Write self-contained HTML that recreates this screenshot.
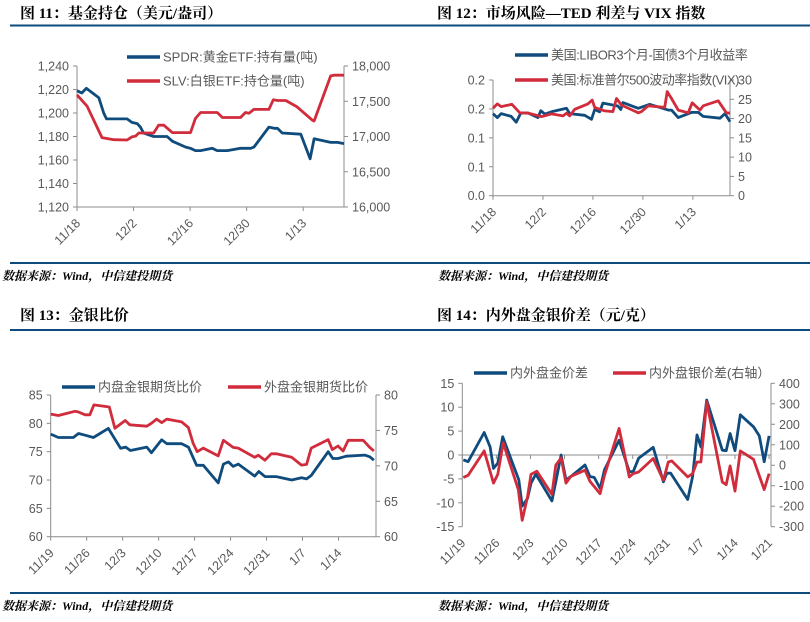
<!DOCTYPE html>
<html><head><meta charset="utf-8">
<style>
html,body{margin:0;padding:0;background:#fff;}
svg{display:block;font-family:"Liberation Sans","Noto Sans CJK SC",sans-serif;}
.ttl{font-family:"Liberation Serif","Noto Serif CJK SC",serif;font-weight:bold;font-size:15px;fill:#000;}
.src{font-family:"Liberation Serif","Noto Serif CJK SC",serif;font-weight:bold;font-style:italic;font-size:12px;fill:#000;}
.tk{font-size:12.5px;fill:#595959;}
.lg{font-size:13px;fill:#595959;}
</style></head>
<body>
<svg id="s" width="810" height="622" viewBox="0 0 810 622">
<text class="ttl" x="20" y="18">图 11：基金持仓（美元/盎司）</text>
<text class="ttl" x="437" y="18">图 12：市场风险—TED 利差与 VIX 指数</text>
<text class="ttl" x="20" y="320">图 13：金银比价</text>
<text class="ttl" x="437" y="320">图 14：内外盘金银价差（元/克）</text>
<rect x="10" y="24.5" width="395" height="2" fill="#0e4a7b"/>
<rect x="405" y="24.5" width="405" height="2" fill="#0e4a7b"/>
<rect x="10" y="262" width="395" height="2" fill="#0e4a7b"/>
<rect x="405" y="262" width="405" height="2" fill="#0e4a7b"/>
<rect x="10" y="329" width="395" height="2" fill="#0e4a7b"/>
<rect x="405" y="329" width="405" height="2" fill="#0e4a7b"/>
<rect x="10" y="592" width="395" height="2" fill="#0e4a7b"/>
<rect x="405" y="592" width="405" height="2" fill="#0e4a7b"/>
<text class="src" x="2" y="280">数据来源：Wind，中信建投期货</text>
<text class="src" x="438" y="280">数据来源：Wind，中信建投期货</text>
<text class="src" x="2" y="610">数据来源：Wind，中信建投期货</text>
<text class="src" x="438" y="610">数据来源：Wind，中信建投期货</text>
</svg>
<script>
// ---- Figure 11 data ----
const c11Ticks = [0,14,28,42,56];
const c11TickLabels = ["11/18","12/2","12/16","12/30","1/13"];
const c11LeftLabels = ["1,120","1,140","1,160","1,180","1,200","1,220","1,240"];
const c11RightLabels = ["16,000","16,500","17,000","17,500","18,000"];
const c11GoldDays = [0,1.2,2.3,5.4,6.6,7.3,12.4,13.6,14.9,15.7,16.5,19.0,22.3,23.6,26.9,28.1,29.3,30.6,33.5,34.7,37.2,40.5,43.0,43.8,47.5,48.8,49.6,50.8,55.4,57.7,58.7,62.8,64.5,66.1];
const c11GoldValues = [1219,1217,1221,1213,1200,1195,1195,1192,1191,1188,1183,1180,1180,1176,1171,1170,1168,1168,1170,1168,1168,1170,1170,1171,1188,1187,1187,1183,1182,1161,1178,1175,1175,1174];
const c11SilverDays = [0,2.5,6.2,9.1,12.4,13.6,14.5,15.3,19.0,20.2,21.5,23.6,28.1,29.3,30.6,34.7,36.0,40.5,41.7,42.6,43.8,47.5,48.6,49.6,51.7,54.5,58.3,58.7,62.8,63.6,66.1];
const c11SilverValues = [17590,17430,16985,16955,16950,16995,17005,17050,17050,17160,17160,17055,17055,17255,17340,17340,17270,17270,17340,17330,17385,17385,17520,17510,17510,17420,17230,17220,17860,17870,17870];
// ---- Figure 12 data ----
const c12Ticks = [0,14,28,42,56];
const c12TickLabels = ["11/18","12/2","12/16","12/30","1/13"];
const c12LeftLabels = ["0.0","0.1","0.1","0.2","0.2"];
const c12RightLabels = ["0","5","10","15","20","25","30"];
const c12TedDays = [0,1.2,2.3,5.1,6.5,7.8,9.8,12.6,13.4,14.5,16.4,20.6,21.5,25.7,27.6,28.5,29.9,30.8,35.0,35.8,36.4,40.7,43.9,49.1,50.0,51.9,55.6,57.5,58.9,63.6,65.0,66.4];
const c12TedValues = [0.142,0.135,0.142,0.137,0.127,0.143,0.143,0.135,0.147,0.141,0.145,0.151,0.142,0.139,0.132,0.149,0.145,0.160,0.155,0.149,0.161,0.151,0.158,0.148,0.148,0.135,0.144,0.144,0.137,0.134,0.142,0.128];
const c12VixDays = [0,1.2,2.3,5.3,7.5,10.0,13.6,16.4,19.6,20.6,21.5,22.9,26.6,27.8,28.5,31.3,33.6,34.6,36.0,40.7,41.6,43.5,48.1,48.8,50.0,51.9,54.7,55.8,58.0,58.9,63.1,65.4,66.4];
const c12VixValues = [22.7,23.8,23.1,23.7,21.5,21.4,20.5,21.2,20.7,21.4,20.7,22.4,23.8,24.8,22.9,22.0,21.8,25.2,23.5,21.5,21.8,23.3,22.9,27.0,25.2,22.2,21.5,24.1,22.2,23.3,24.6,21.5,21.4];
// ---- Figure 13 data ----
const c13Ticks = [0,7,14,21,28,35,42,49,56];
const c13TickLabels = ["11/19","11/26","12/3","12/10","12/17","12/24","12/31","1/7","1/14"];
const c13LeftLabels = ["60","65","70","75","80","85"];
const c13RightLabels = ["60","65","70","75","80"];
const c13InnerDays = [0,1.5,4.4,5.4,6.7,8.3,11.2,13.6,14.6,15.5,18.7,19.6,21.6,22.6,25.5,26.8,28.4,29.7,32.6,33.6,34.6,35.5,36.5,39.7,40.5,41.7,43.9,46.9,48.8,49.8,50.7,54.0,54.9,55.9,57.5,61.1,62.1,62.9];
const c13InnerValues = [78.1,77.5,77.5,78.2,77.9,77.5,79.1,75.6,75.8,75.2,75.8,74.8,77.1,76.4,76.4,75.8,72.6,72.6,69.5,72.8,73.2,72.4,72.8,70.7,71.5,70.6,70.6,70.0,70.4,70.2,70.8,75.0,73.8,73.8,74.2,74.4,74.1,73.5];
const c13OuterDays = [0,1.5,4.7,5.4,6.7,7.6,8.4,11.4,12.5,14.5,15.4,18.7,19.6,20.6,21.6,22.6,25.5,26.8,27.7,28.5,29.7,32.6,33.6,35.5,36.5,39.7,40.4,41.7,42.9,43.9,46.9,48.8,49.8,50.7,54.0,54.8,55.9,56.9,57.9,60.8,62.1,62.9];
const c13OuterValues = [77.3,77.1,77.7,77.6,77.2,77.2,78.6,78.3,75.3,76.4,75.8,75.6,76.0,76.6,76.1,76.6,76.2,75.4,73.2,72.0,72.5,71.4,73.6,72.6,72.5,71.2,71.5,70.8,71.7,71.7,71.2,70.1,70.2,72.5,73.7,72.3,72.8,72.1,73.6,73.6,72.6,72.1];
// ---- Figure 14 data ----
const c14Ticks = [0,7,14,21,28,35,42,49,56,63];
const c14TickLabels = ["11/19","11/26","12/3","12/10","12/17","12/24","12/31","1/7","1/14","1/21"];
const c14LeftLabels = ["-15","-10","-5","0","5","10","15"];
const c14RightLabels = ["-300","-200","-100","0","100","200","300","400"];
const c14GoldDays = [0.2,1.2,4.5,5.7,6.4,7.3,8.3,11.6,12.3,13.4,14.1,15.1,18.4,19.2,20.3,21.3,22.3,25.2,26.2,27.1,28.3,29.2,32.2,34.3,35.1,36.2,39.2,41.3,42.0,42.8,46.3,47.3,48.2,49.0,50.2,53.4,54.2,55.0,56.0,57.1,59.8,61.0,62.0,63.0];
const c14GoldValues = [-1.0,-1.4,4.7,1.7,-2.8,-1.7,3.8,-5.2,-10.7,-9.1,-5.9,-4.0,-9.6,-5.6,0,-5.2,-4.5,-2.1,-4.5,-4.7,-7.0,-3.1,3.1,-3.5,-3.5,-0.7,1.6,-5.6,-3.8,-3.8,-9.3,-4.5,4.2,1.7,11.5,1.0,0.9,4.5,0.9,8.4,5.9,4.0,-1.4,4.0];
const c14SilverDays = [0.2,1.2,4.5,6.4,7.3,8.4,11.5,12.3,13.4,14.1,15.3,18.4,19.2,20.3,21.3,22.3,25.2,26.2,28.3,29.2,32.2,34.3,35.1,36.2,39.2,41.3,42.3,43.0,46.3,47.3,48.2,49.0,50.2,53.4,54.2,55.0,56.0,57.1,59.8,62.0,63.0];
const c14SilverValues = [-60,-49,70,-87,-44,109,-119,-269,-155,-44,-29,-142,0,36,-87,-54,-24,-78,-139,-49,180,-57,-41,-33,33,-73,16,21,-57,-41,16,16,310,-82,-95,-3,-126,70,29,-119,-41];

const NS = "http://www.w3.org/2000/svg";
const svg = document.getElementById('s');
const BLUE = "#0f4c7d", RED = "#d12c3c", AX = "#8c8c8c";
function mk(tag, attrs){ const e=document.createElementNS(NS,tag); for(const k in attrs) e.setAttribute(k,attrs[k]); svg.appendChild(e); return e; }

function chart(cfg){
  const {L,R,T,B,dayMax,yL,yR,xAxisAt} = cfg;
  const xs = d => L + d*(R-L)/dayMax;
  const yl = v => B - (v-yL[0])*(B-T)/(yL[1]-yL[0]);
  const yr = v => B - (v-yR[0])*(B-T)/(yR[1]-yR[0]);
  let a = mk('line',{x1:L,y1:T,x2:L,y2:B,stroke:AX,'stroke-width':1});
  
  
  let a2 = mk('line',{x1:R,y1:T,x2:R,y2:B,stroke:AX,'stroke-width':1});
  
  
  const n1 = cfg.leftLabels.length;
  cfg.leftLabels.forEach((lab,i)=>{
    const v = yL[0] + i*(yL[1]-yL[0])/(n1-1), y = yl(v);
    mk('line',{x1:L-4,y1:y,x2:L,y2:y,stroke:AX});
    const t = mk('text',{x:L-8,y:y+4.5,'text-anchor':'end',class:'tk'});
    t.textContent = lab;
    
    
  });
  const n2 = cfg.rightLabels.length;
  cfg.rightLabels.forEach((lab,i)=>{
    const v = yR[0] + i*(yR[1]-yR[0])/(n2-1), y = yr(v);
    mk('line',{x1:R,y1:y,x2:R+4,y2:y,stroke:AX});
    const t = mk('text',{x:R+8,y:y+4.5,class:'tk'});
    t.textContent = lab;
    
    
  });
  const xa = xAxisAt===undefined ? B : yl(xAxisAt);
  let xl = mk('line',{x1:L,y1:xa,x2:R,y2:xa,stroke:AX,'stroke-width':1});
  
  
  cfg.ticks.forEach((d,i)=>{
    const x = xs(d);
    mk('line',{x1:x,y1:xa,x2:x,y2:xa+4,stroke:AX});
    const tx = x+4, ty = B+17;
    const t = mk('text',{x:tx,y:ty,'text-anchor':'end',class:'tk',transform:`rotate(-45 ${tx} ${ty})`});
    t.textContent = cfg.tickLabels[i];
    
    
  });
  cfg.series.forEach(s=>{
    const sc = s.axis==='r' ? yr : yl;
    const pts = s.days.map((d,i)=>xs(d).toFixed(1)+','+sc(s.values[i]).toFixed(1)).join(' ');
    const p = mk('polyline',{points:pts,fill:'none',stroke:s.color,'stroke-width':2.8,'stroke-linejoin':'round'});
    
    
    const lg = mk('line',{x1:s.lx,y1:s.ly,x2:s.lx+33,y2:s.ly,stroke:s.color,'stroke-width':3.5});
    
    
    const lt = mk('text',{x:s.lx+36,y:s.ly+4.5,class:'lg','font-size':s.fs||13,'letter-spacing':s.ls||0});
    lt.textContent = s.label;
    
    
  });
}

chart({id:'fig11',L:77,R:344,T:66,B:207,dayMax:66.1,yL:[1120,1240],yR:[16000,18000],
  ticks:c11Ticks,tickLabels:c11TickLabels,leftLabels:c11LeftLabels,rightLabels:c11RightLabels,
  series:[
    {name:'spdr-gold-holdings-line',days:c11GoldDays,values:c11GoldValues,axis:'l',color:BLUE,label:'SPDR:黄金ETF:持有量(吨)',lx:127,ly:57},
    {name:'slv-silver-holdings-line',days:c11SilverDays,values:c11SilverValues,axis:'r',color:RED,label:'SLV:白银ETF:持仓量(吨)',lx:127,ly:81}
  ]});
chart({id:'fig12',L:493,R:730,T:80,B:195.7,dayMax:66.4,yL:[0,0.2],yR:[0,30],
  ticks:c12Ticks,tickLabels:c12TickLabels,leftLabels:c12LeftLabels,rightLabels:c12RightLabels,
  series:[
    {name:'ted-spread-line',days:c12TedDays,values:c12TedValues,axis:'l',color:BLUE,label:'美国:LIBOR3个月-国债3个月收益率',lx:515,ly:55,fs:11.5,ls:-0.4},
    {name:'vix-index-line',days:c12VixDays,values:c12VixValues,axis:'r',color:RED,label:'美国:标准普尔500波动率指数(VIX)',lx:515,ly:80,fs:11,ls:-0.5}
  ]});
chart({id:'fig13',L:50.7,R:376,T:395,B:536.7,dayMax:63.3,yL:[60,85],yR:[60,80],
  ticks:c13Ticks,tickLabels:c13TickLabels,leftLabels:c13LeftLabels,rightLabels:c13RightLabels,
  series:[
    {name:'domestic-gold-silver-ratio-line',days:c13InnerDays,values:c13InnerValues,axis:'l',color:BLUE,label:'内盘金银期货比价',lx:62,ly:387,fs:14},
    {name:'foreign-gold-silver-ratio-line',days:c13OuterDays,values:c13OuterValues,axis:'r',color:RED,label:'外盘金银期货比价',lx:228,ly:387,fs:14}
  ]});
chart({id:'fig14',L:462.3,R:771,T:383.3,B:526.7,dayMax:63.4,yL:[-15,15],yR:[-300,400],xAxisAt:0,
  ticks:c14Ticks,tickLabels:c14TickLabels,leftLabels:c14LeftLabels,rightLabels:c14RightLabels,
  series:[
    {name:'gold-spread-line',days:c14GoldDays,values:c14GoldValues,axis:'l',color:BLUE,label:'内外盘金价差',lx:474,ly:373,fs:14},
    {name:'silver-spread-line',days:c14SilverDays,values:c14SilverValues,axis:'r',color:RED,label:'内外盘银价差(右轴）',lx:613,ly:373,fs:14}
  ]});
</script>
</body></html>
